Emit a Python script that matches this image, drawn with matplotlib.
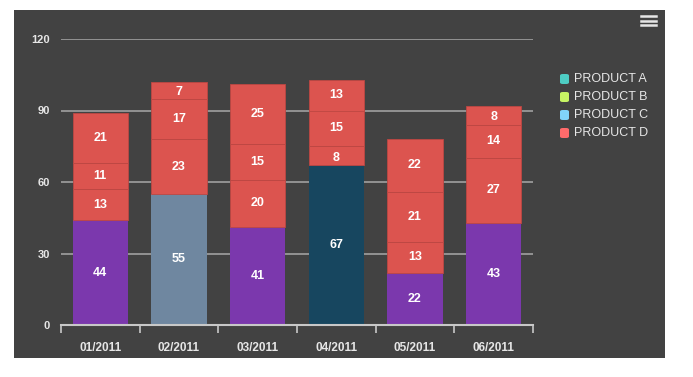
import matplotlib.pyplot as plt
import numpy as np
from matplotlib.patches import Rectangle, FancyBboxPatch

plt.rcParams["font.family"] = ["Liberation Sans", "DejaVu Sans"]

months = ["01/2011", "02/2011", "03/2011", "04/2011", "05/2011", "06/2011"]
products = ["PRODUCT A", "PRODUCT B", "PRODUCT C", "PRODUCT D"]
legend_colors = ["#4ecdc4", "#c7f464", "#81d4fa", "#ff6b6b"]

prod_a = [44, 55, 41, 67, 22, 43]
prod_b = [13, 23, 20, 8, 13, 27]
prod_c = [11, 17, 15, 15, 21, 14]
prod_d = [21, 7, 25, 13, 22, 8]

base_colors = ["#7b38ad", "#6f87a0", "#7b38ad", "#17465f", "#7b38ad", "#7b38ad"]
stack_color = "#dc544f"
bg = "#424242"
txt = "#e6e6e6"

fig = plt.figure(figsize=(6.93, 3.77), dpi=100)
fig.patch.set_facecolor("white")
bgrect = Rectangle((14 / 693, 1 - 358 / 377), (665 - 14) / 693, 348 / 377,
                   transform=fig.transFigure, facecolor=bg, edgecolor="none", zorder=-10)
fig.add_artist(bgrect)

ax = fig.add_axes([61 / 693, 1 - 325 / 377, (533 - 61) / 693, (325 - 39) / 377])
ax.patch.set_alpha(0)

x = np.arange(len(months))
w = 0.7
series = [prod_a, prod_b, prod_c, prod_d]
bottom = np.zeros(len(months))
for i, vals in enumerate(series):
    cols = base_colors if i == 0 else [stack_color] * len(months)
    ax.bar(x, vals, w, bottom=bottom, color=cols, edgecolor="#bd4743" if i else "none",
           linewidth=0.6, zorder=3)
    for xi, v, b in zip(x, vals, bottom):
        ypos = b + v / 2
        if v < 10:
            ypos = b + v * 0.4
        ax.text(xi, ypos, str(v), ha="center", va="center", color="white",
                fontsize=9, fontweight="bold", zorder=4)
    bottom += np.array(vals)

ax.set_xlim(-0.5, len(months) - 0.5)
ax.set_ylim(0, 120)
ax.set_yticks([0, 30, 60, 90, 120])
ax.yaxis.grid(True, color="#a0a0a0", linewidth=1.2, zorder=1)
ax.set_axisbelow(True)
for s in ["top", "right", "left"]:
    ax.spines[s].set_visible(False)
ax.spines["bottom"].set_color("#c8c8c8")
ax.spines["bottom"].set_linewidth(1.5)
ax.spines["bottom"].set_zorder(5)

ax.tick_params(axis="y", length=0, pad=8, labelcolor=txt, labelsize=8)
for lbl in ax.get_yticklabels():
    lbl.set_fontweight("bold")

ax.set_xticks(np.arange(-0.5, len(months), 1.0))
ax.set_xticklabels([])
ax.tick_params(axis="x", which="major", length=6, color="#c8c8c8", width=1.2)
ax.set_xticks(x, minor=True)
ax.set_xticklabels(months, minor=True)
ax.tick_params(axis="x", which="minor", length=0, pad=12, labelcolor=txt, labelsize=8.5)
for lbl in ax.get_xticklabels(minor=True):
    lbl.set_fontweight("bold")

# legend
for i, (name, c) in enumerate(zip(products, legend_colors)):
    yc = 79 + i * 18
    fig.add_artist(FancyBboxPatch((560 / 693, 1 - (yc + 5) / 377), 9 / 693, 10 / 377,
                                  boxstyle="round,pad=0,rounding_size=0.004",
                                  transform=fig.transFigure, facecolor=c,
                                  edgecolor="none", zorder=5))
    fig.text(574 / 693, 1 - yc / 377, name, color=txt, fontsize=9,
             va="center", ha="left")

# menu icon
for k in range(3):
    yy = 1 - (16 + k * 4.5) / 377
    fig.add_artist(plt.Line2D([641 / 693, 656 / 693], [yy, yy], transform=fig.transFigure,
                              color="#e6e6e6", linewidth=1.8))

fig.savefig("out.png", dpi=100, facecolor=fig.get_facecolor())
